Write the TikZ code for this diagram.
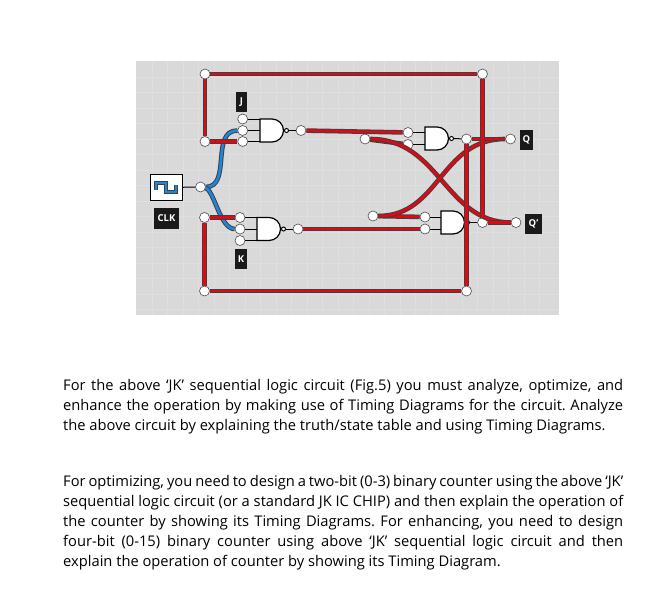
\documentclass[tikz,border=0pt]{standalone}
\usepackage{fontspec}
\setmainfont{Open Sans}
\frenchspacing
\definecolor{gridbg}{HTML}{D9D9D9}
\definecolor{gridline}{HTML}{DFDFDF}
\definecolor{wirered}{HTML}{E30613}
\definecolor{wireblue}{HTML}{1C86E0}
\definecolor{tagdark}{HTML}{1A1A1A}
\tikzset{
    pin/.style={circle,draw=black!70,fill=white,inner sep=0pt,minimum size=10pt,line width=0.6pt},
    redwire/.style={draw=black!75,double=wirered,double distance=2.6pt,line width=1pt},
    bluewire/.style={draw=black!75,double=wireblue,double distance=2.6pt,line width=1pt},
    stub/.style={draw=black,line width=1pt},
    gatebody/.style={draw=black,fill=white,line width=1.2pt},
    bubble/.style={circle,draw=black,fill=white,inner sep=0pt,minimum size=4pt,line width=1pt},
    tag/.style={fill=tagdark,text=white,font=\bfseries\fontsize{9.5}{10}\selectfont,inner sep=0pt,minimum height=20pt},
    para/.style={anchor=north west,text width=560pt,align=justify,inner sep=0pt,font=\fontsize{14.7}{20}\selectfont},
    nandgate/.pic={
        \draw[gatebody] (0,-11.5) -- (12,-11.5) arc[start angle=-90,end angle=90,radius=11.5] -- (0,11.5) -- cycle;
        \node[bubble] (-b) at (26.5,0) {};
        \coordinate (-l) at (0,0);
    }
}
\begin{document}
\begin{tikzpicture}[x=1pt,y=-1pt]
    \useasboundingbox (0,0) rectangle (647,603);

    % Board
    \fill[gridbg] (136,61) rectangle (559,315);
    \foreach \gx in {152,167.5,...,550}
        \draw[gridline,line width=0.5pt] (\gx,61) -- (\gx,315);
    \foreach \gy in {77,92.5,...,310}
        \draw[gridline,line width=0.5pt] (136,\gy) -- (559,\gy);

    % Clock
    \node[draw=black,fill=white,line width=1pt,minimum width=32pt,minimum height=26pt,inner sep=0pt] (clk) at (166.5,187.5) {};
    \draw[draw=black!75,double=wireblue,double distance=2.2pt,line width=0.5pt,line join=miter]
        ([shift={(-10.5,2.5)}]clk.center) -- ++(0,-7) -- ++(10,0) -- ++(0,9) -- ++(10,0) -- ++(0,-7);
    \node[tag,minimum width=25pt,minimum height=21pt] (clktag) at (166.5,218.5) {CLK};

    % Gates
    \pic (gj) at (260,130.5) {nandgate};
    \pic (gk) at (257,229) {nandgate};
    \pic (gq) at (425,138.5) {nandgate};
    \pic (gn) at (441,222.5) {nandgate};

    % Pins
    \node[pin] (tl) at (205,74) {};
    \node[pin] (tr) at (482.5,74) {};
    \node[pin] (jfb) at (205,141.5) {};
    \node[pin] (ja) at (242.7,119) {};
    \node[pin] (jb) at (242.7,130.5) {};
    \node[pin] (jc) at (242.7,141.5) {};
    \node[pin] (jo) at (301,130.5) {};
    \node[pin] (clkpin) at (200.5,187) {};
    \node[pin] (kfb) at (204.5,217.5) {};
    \node[pin] (ka) at (240,217.5) {};
    \node[pin] (kb) at (240,229) {};
    \node[pin] (kc) at (240,240.5) {};
    \node[pin] (ko) at (298,229) {};
    \node[pin] (bl) at (204.5,291) {};
    \node[pin] (br) at (466.5,291) {};
    \node[pin] (qa) at (408,132.5) {};
    \node[pin] (qb) at (408,144.5) {};
    \node[pin] (qin) at (365,139) {};
    \node[pin] (qo) at (466.5,139) {};
    \node[pin] (qend) at (510.5,139) {};
    \node[pin] (na) at (425,217) {};
    \node[pin] (nb) at (425,229) {};
    \node[pin] (nin) at (373,216) {};
    \node[pin] (no) at (482.5,222.5) {};
    \node[pin] (nend) at (516,222.5) {};

    % Labels
    \node[tag,minimum width=11pt] (jtag) at (241.5,102) {J};
    \node[tag,minimum width=12pt] (ktag) at (241,259) {K};
    \node[tag,minimum width=13pt] (qtag) at (526.5,140) {Q};
    \node[tag,minimum width=17pt] (ntag) at (533.5,224) {Q'};

    % Stubs
    \draw[stub] (clk) -- (clkpin);
    \foreach \a in {ja,jb,jc}
        \draw[stub] (\a) -- (\a -| gj-l);
    \foreach \a in {ka,kb,kc}
        \draw[stub] (\a) -- (\a -| gk-l);
    \foreach \a in {qa,qb}
        \draw[stub] (\a) -- (\a -| gq-l);
    \foreach \a in {na,nb}
        \draw[stub] (\a) -- (\a -| gn-l);
    \draw[stub] (gj-b) -- (jo);
    \draw[stub] (gk-b) -- (ko);
    \draw[stub] (gq-b) -- (qo);
    \draw[stub] (gn-b) -- (no);

    % Blue clock wires
    \draw[bluewire] (clkpin) .. controls (232,187) and (210,130.5) .. (jb);
    \draw[bluewire] (clkpin) .. controls (214,190) and (220,229) .. (kb);

    % Red wires
    \draw[redwire] (tl) -- (jfb);
    \draw[redwire] (jfb) -- (jc);
    \draw[redwire] (kfb) -- (ka);
    \draw[redwire] (kfb) -- (bl);
    \draw[redwire] (bl) -- (br);
    \draw[redwire] (jo) -- (qa);
    \draw[redwire] (ko) -- (nb);
    \draw[redwire] (nin) -- (na);
    \draw[redwire] (qin) -- (qb);
    \draw[redwire] (qin) .. controls (440,139) and (445,222.5) .. (nend);
    \draw[redwire] (nin) .. controls (440,216) and (440,139) .. (qend);
    \draw[redwire] (qo) -- (qend);
    \draw[redwire] (no) -- (nend);
    \draw[redwire] (qo) -- (br);
    \draw[redwire] (tl) -- (tr);
    \draw[redwire] (tr) -- (no);

    % Text
    \node[para] (intro) at (63,379) {For the above ‘JK’ sequential logic circuit (Fig.5) you must analyze, optimize, and\linebreak
        enhance the operation by making use of Timing Diagrams for the circuit. Analyze\linebreak
        the above circuit by explaining the truth/state table and using Timing Diagrams.};
    \node[para] (task) at (63,475) {For optimizing, you need to design a two-bit (0-3) binary counter using the above ‘JK’\linebreak
        sequential logic circuit (or a standard JK IC CHIP) and then explain the operation of\linebreak
        the counter by showing its Timing Diagrams. For enhancing, you need to design\linebreak
        four-bit (0-15) binary counter using above ‘JK’ sequential logic circuit and then\linebreak
        explain the operation of counter by showing its Timing Diagram.};
\end{tikzpicture}
\end{document}
